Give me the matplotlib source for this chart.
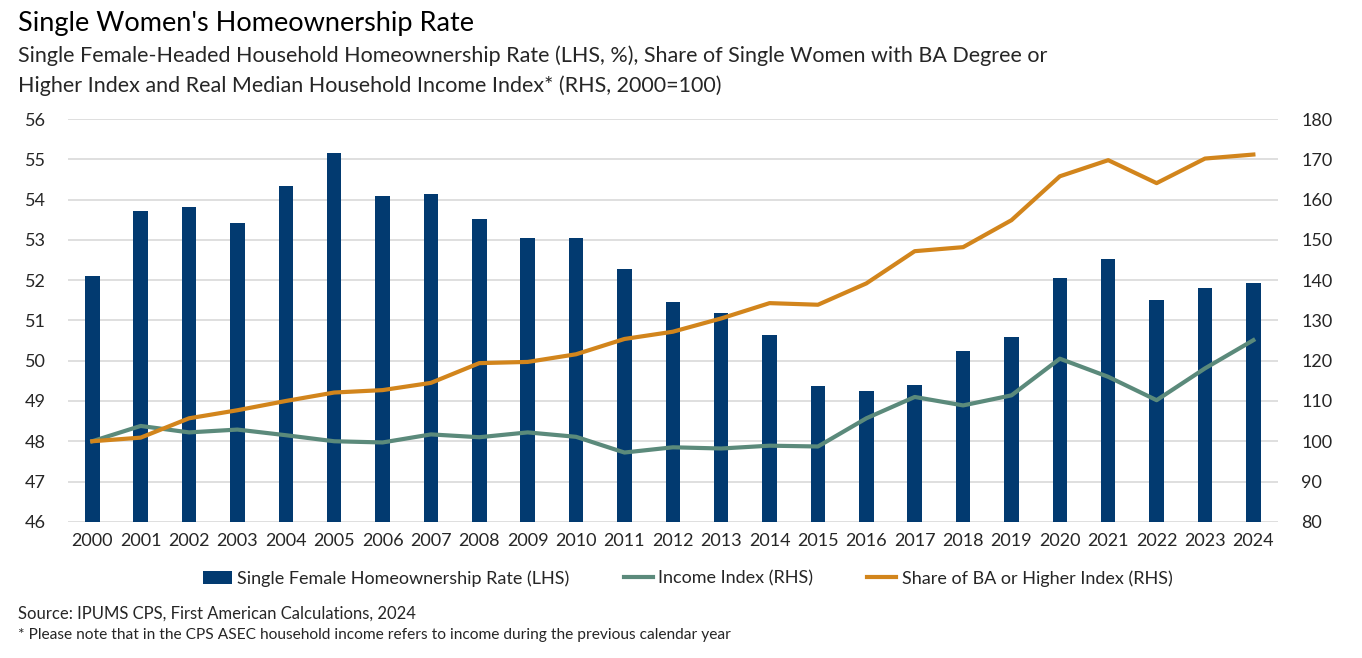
import numpy as np
import matplotlib
matplotlib.use('Agg')
import matplotlib.pyplot as plt
from matplotlib.patches import Patch
from matplotlib.lines import Line2D

plt.rcParams['font.family'] = ['Lato', 'DejaVu Sans']

years = [str(y) for y in range(2000, 2025)]
homeownership = [52.10, 53.73, 53.82, 53.41, 54.34, 55.17, 54.09, 54.15, 53.52, 53.05,
                 53.04, 52.28, 51.46, 51.19, 50.63, 49.37, 49.25, 49.39, 50.24, 50.59,
                 52.06, 52.52, 51.51, 51.81, 51.92]
income_idx = [100.0, 103.8, 102.2, 102.9, 101.5, 100.0, 99.7, 101.7, 101.0, 102.2,
              101.1, 97.2, 98.5, 98.2, 98.9, 98.7, 105.7, 111.0, 108.9, 111.4,
              120.5, 116.0, 110.2, 118.1, 125.1]
ba_idx = [100.0, 100.9, 105.7, 107.7, 110.0, 112.1, 112.7, 114.5, 119.4, 119.7,
          121.6, 125.4, 127.2, 130.5, 134.3, 133.9, 139.2, 147.2, 148.2, 154.9,
          165.8, 169.8, 164.1, 170.2, 171.2]

navy = '#023a70'
green = '#5b8a7b'
orange = '#d2851c'
txt = '#262626'

fig = plt.figure(figsize=(13.62, 6.58), dpi=100)
ax1 = fig.add_axes([0.050, 0.207, 0.888, 0.612])
ax2 = ax1.twinx()

x = np.arange(len(years))
ax1.bar(x, homeownership, width=0.30, color=navy, zorder=2)
ax2.plot(x, income_idx, color=green, lw=3, zorder=3)
ax2.plot(x, ba_idx, color=orange, lw=3, zorder=3)

ax1.set_ylim(46, 56)
ax1.set_yticks(range(46, 57))
ax2.set_ylim(80, 180)
ax2.set_yticks(range(80, 181, 10))
ax1.set_xlim(-0.5, len(years) - 0.5)
ax1.set_xticks(x)
ax1.set_xticklabels(years)
ax1.grid(axis='y', color='#d9d9d9', lw=1.2, zorder=0)
ax1.set_axisbelow(True)
for a in (ax1, ax2):
    for s in a.spines.values():
        s.set_visible(False)
    a.tick_params(length=0, labelsize=13, colors=txt)
ax1.tick_params(axis='y', pad=16)
ax1.tick_params(axis='x', pad=8)
ax2.tick_params(axis='y', pad=17)

fig.text(0.013, 0.965, "Single Women's Homeownership Rate", fontsize=19.5, color='black', va='center')
fig.text(0.013, 0.915, "Single Female-Headed Household Homeownership Rate (LHS, %), Share of Single Women with BA Degree or",
         fontsize=15.5, color=txt, va='center')
fig.text(0.013, 0.870, "Higher Index and Real Median Household Income Index* (RHS, 2000=100)",
         fontsize=15.5, color=txt, va='center')

handles = [Patch(facecolor=navy), Line2D([], [], color=green, lw=3), Line2D([], [], color=orange, lw=3)]
labels = ['Single Female Homeownership Rate (LHS)', 'Income Index (RHS)', 'Share of BA or Higher Index (RHS)']
fig.legend(handles, labels, loc='center', bbox_to_anchor=(0.505, 0.121), ncol=3, frameon=False,
           fontsize=13, handlelength=1.6, handletextpad=0.3, columnspacing=3.0, labelcolor=txt)

fig.text(0.013, 0.067, "Source: IPUMS CPS, First American Calculations, 2024", fontsize=12, color=txt, va='center')
fig.text(0.013, 0.035, "* Please note that in the CPS ASEC household income refers to income during the previous calendar year",
         fontsize=11.2, color=txt, va='center')

fig.savefig('out.png', dpi=100)
